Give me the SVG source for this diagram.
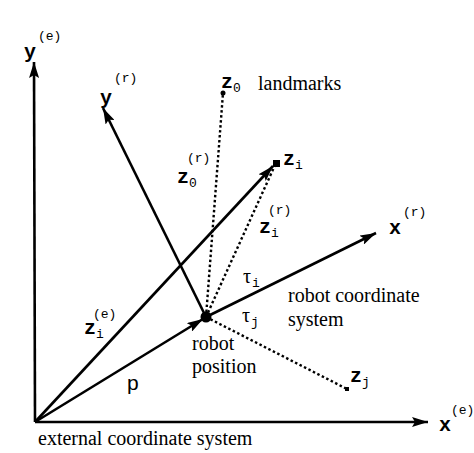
<svg xmlns="http://www.w3.org/2000/svg" width="474" height="453" viewBox="0 0 474 453">
<defs>
<marker id="ah" viewBox="0 0 16 10" refX="16" refY="5" markerWidth="16" markerHeight="10" markerUnits="userSpaceOnUse" orient="auto">
<path d="M0,0 L16,5 L0,10 L3,5 Z" fill="#000"/>
</marker>
<style>
.ax{stroke:#000;stroke-width:2.6;fill:none}
.dot{stroke:#000;stroke-width:2.4;stroke-dasharray:2.5 2.5;fill:none}
.m{font-family:"Liberation Mono","DejaVu Sans Mono",monospace;font-weight:bold;font-size:20px;fill:#000}
.s{font-family:"Liberation Mono","DejaVu Sans Mono",monospace;font-size:13px;fill:#000}
.t{font-family:"Liberation Serif","Times New Roman",serif;font-size:20px;fill:#000}
.p{font-family:"Liberation Sans",Arial,sans-serif;font-size:21px;fill:#000}
</style>
</defs>
<rect width="474" height="453" fill="#fff"/>
<g id="connectors">
<line class="ax" x1="35" y1="422" x2="34" y2="62" marker-end="url(#ah)"/>
<line class="ax" x1="35" y1="422" x2="428" y2="422" marker-end="url(#ah)"/>
<line class="ax" x1="35" y1="422" x2="203" y2="319" marker-end="url(#ah)"/>
<line class="ax" x1="35" y1="422" x2="273" y2="166" marker-end="url(#ah)"/>
<line class="ax" x1="206" y1="317" x2="103" y2="108" marker-end="url(#ah)"/>
<line class="ax" x1="206" y1="317" x2="376" y2="233" marker-end="url(#ah)"/>
<line class="dot" x1="206" y1="317" x2="223" y2="93"/>
<line class="dot" x1="206" y1="317" x2="276" y2="163"/>
<line class="dot" x1="206" y1="317" x2="347" y2="389"/>
</g>
<g id="robot">
<circle cx="206" cy="317" r="5.5" fill="#000"/>
<text class="t" x="192" y="350">robot</text>
<text class="t" x="192" y="373">position</text>
</g>
<g id="z0">
<circle cx="223" cy="93" r="2.5" fill="#000"/>
<text class="m" x="221" y="88">z</text><text class="s" x="233" y="92">0</text>
</g>
<g id="zi">
<rect x="273" y="160" width="7" height="7" fill="#000"/>
<text class="m" x="283" y="165">z</text><text class="s" x="295" y="169">i</text>
</g>
<g id="zj">
<rect x="345" y="387" width="4" height="4" fill="#000"/>
<text class="m" x="350" y="382">z</text><text class="s" x="362" y="386">j</text>
</g>
<g id="labels">
<text class="m" x="24" y="58">y</text><text class="s" x="38" y="40">(e)</text>
<text class="m" x="100" y="104">y</text><text class="s" x="114" y="82">(r)</text>
<text class="t" x="258" y="90">landmarks</text>
<text class="s" x="187" y="162">(r)</text><text class="m" x="177" y="183">z</text><text class="s" x="189" y="187">0</text>
<text class="s" x="268" y="214">(r)</text><text class="m" x="259" y="233">z</text><text class="s" x="271" y="237">i</text>
<text class="m" x="389" y="234">x</text><text class="s" x="403" y="216">(r)</text>
<text class="t" x="243" y="283">τ</text><text class="s" x="252" y="287">i</text>
<text class="t" x="242" y="322">τ</text><text class="s" x="251" y="326">j</text>
<text class="t" x="288" y="302">robot coordinate</text>
<text class="t" x="288" y="326">system</text>
<text class="s" x="93" y="318">(e)</text><text class="m" x="84" y="334">z</text><text class="s" x="96" y="338">i</text>
<text class="p" x="127" y="390">p</text>
<text class="t" x="38" y="445">external coordinate system</text>
<text class="m" x="439" y="431">x</text><text class="s" x="451" y="414">(e)</text>
</g>
</svg>
